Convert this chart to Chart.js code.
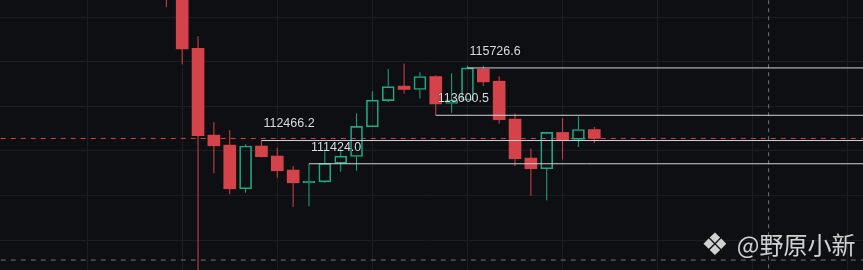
<!DOCTYPE html>
<html>
<head>
<meta charset="utf-8">
<script src="https://cdn.jsdelivr.net/npm/chart.js@4.4.1/dist/chart.umd.min.js"></script>
<style>
  html, body { margin: 0; padding: 0; background: #0e0f12; }
  #wrap { position: relative; width: 863px; height: 270px; }
  #mark {
    position: absolute; left: 701px; top: 230px; height: 28px;
    display: flex; align-items: center; white-space: nowrap;
    color: rgba(226, 226, 226, 0.92);
  }
  #mark .logo { font: 31px/28px "DejaVu Sans", sans-serif; margin-right: 8px; }
  #mark .txt { font: 24px/28px "Noto Sans CJK SC", sans-serif; }
</style>
</head>
<body>
<div id="wrap">
  <canvas id="c"></canvas>
  <div id="mark"><span class="logo">❖</span><span class="txt">@野原小新</span></div>
</div>
<script>
// candles (one per slot), prices
const slots  = [5, 6, 7, 8, 9, 10, 11, 12, 13, 14, 15, 16, 17, 18, 19, 20, 21, 22, 23, 24, 25, 26, 27, 28, 29, 30, 31, 32];
const opens  = [119650, 118950, 116610, 112710, 112260, 110300, 112220, 111770, 111140, 110560, 110610, 111440, 111750, 113080, 114260, 114910, 114760, 115340, 114130, 114280, 115670, 115130, 113430, 111680, 111200, 112830, 112520, 112960];
const highs  = [119800, 119050, 117150, 113290, 112930, 112300, 112466.2, 112140, 111330, 111424.0, 112110, 112180, 113680, 114680, 115680, 115920, 115530, 115400, 115490, 115830, 115820, 115350, 113680, 112110, 112830, 113470, 113560, 113070];
const lows   = [118450, 115890, 106300, 111000, 110050, 110120, 111720, 110790, 109490, 109520, 110570, 111060, 111110, 113070, 114200, 114580, 114350, 113600.5, 113710, 114280, 114920, 113220, 111320, 109990, 109790, 111620, 112180, 112360];
const closes = [118950, 116580, 112680, 112230, 110300, 112220, 111740, 111110, 110570, 110650, 111440, 111770, 113100, 114280, 114890, 114760, 115340, 114110, 114290, 115726.6, 115100, 113400, 111650, 111200, 112830, 112490, 112960, 112560];

// grid positions
const xTicks = [0, 6, 12, 18, 24, 30, 36, 42, 48];
const yTicks = [108000, 110000, 112000, 114000, 116000, 118000];

// marked levels
const levelText  = ['115726.6', '113600.5', '112466.2', '111424.0'];
const levelPrice = [115726.6, 113600.5, 112466.2, 111424.0];
const levelFrom  = [24, 22, 11, 14];

const lastPrice = closes[closes.length - 1];
const cross = { x: 43, y: 107100 };

const RED = '#d5434a', GREEN = '#1fa883';
const isUp = i => closes[i] >= opens[i];
const candleColor = c => isUp(c.dataIndex) ? GREEN : RED;

const X_MIN = -5.495, X_MAX = 48.955;
const Y_MIN = 106653, Y_MAX = 118777;

const levelLabels = {
  id: 'levelLabels',
  afterDatasetsDraw(chart) {
    const { ctx, scales: { x, y } } = chart;
    ctx.save();
    ctx.font = '12.5px "Liberation Sans", Arial, sans-serif';
    ctx.fillStyle = '#d8dde3';
    ctx.textBaseline = 'middle';
    ctx.shadowColor = 'rgba(0,0,0,0.9)';
    ctx.shadowBlur = 2;
    levelText.forEach((t, i) => {
      ctx.fillText(t, x.getPixelForValue(levelFrom[i]) + 2, y.getPixelForValue(levelPrice[i]) - 16.5);
    });
    ctx.restore();
  }
};

const hLine = (y0, from, style) => Object.assign({
  type: 'line',
  data: [{ x: from, y: y0 }, { x: X_MAX + 5, y: y0 }],
  borderWidth: 1, pointRadius: 0, tension: 0
}, style);

const datasets = [
  // levels on top
  ...levelPrice.map((p, i) => hLine(p, levelFrom[i], { borderColor: '#cfd4da', order: 0 })),
  // crosshair
  hLine(cross.y, X_MIN - 5, { borderColor: '#6b7282', borderDash: [5, 5], order: 0 }),
  {
    type: 'line',
    data: [{ x: cross.x, y: Y_MIN - 1000 }, { x: cross.x, y: Y_MAX + 1000 }],
    borderColor: '#6b7282', borderWidth: 1, borderDash: [4, 4], pointRadius: 0, order: 0
  },
  // bodies
  {
    type: 'bar',
    data: slots.map((s, i) => ({ x: s, y: [opens[i], closes[i]] })),
    barThickness: 12,
    grouped: false,
    backgroundColor: c => isUp(c.dataIndex) ? 'rgba(0,0,0,0)' : RED,
    borderColor: candleColor,
    borderWidth: c => isUp(c.dataIndex) ? 1 : 0,
    borderSkipped: false,
    order: 1
  },
  // upper wicks
  {
    type: 'bar',
    data: slots.map((s, i) => ({ x: s, y: [Math.max(opens[i], closes[i]), highs[i]] })),
    barThickness: 1, grouped: false, inflateAmount: 0,
    backgroundColor: candleColor, borderWidth: 0,
    order: 2
  },
  // lower wicks
  {
    type: 'bar',
    data: slots.map((s, i) => ({ x: s, y: [lows[i], Math.min(opens[i], closes[i])] })),
    barThickness: 1, grouped: false, inflateAmount: 0,
    backgroundColor: candleColor, borderWidth: 0,
    order: 2
  },
  // last price line
  hLine(lastPrice, X_MIN - 5, { borderColor: RED, borderDash: [5, 5], order: 3 })
];

const zeroFit = s => { if (s.isHorizontal()) s.height = 0; else s.width = 0; };

new Chart(document.getElementById('c'), {
  type: 'bar',
  data: { datasets },
  plugins: [levelLabels],
  options: {
    responsive: true,
    maintainAspectRatio: false,
    animation: false,
    layout: { padding: 0 },
    plugins: { legend: { display: false }, tooltip: { enabled: false } },
    scales: {
      x: {
        type: 'linear', min: X_MIN, max: X_MAX, offset: false,
        ticks: { display: false },
        grid: { color: '#1c1e23', drawTicks: false, offset: false },
        border: { display: false },
        afterBuildTicks: s => { s.ticks = xTicks.map(v => ({ value: v })); },
        afterFit: zeroFit
      },
      y: {
        type: 'linear', min: Y_MIN, max: Y_MAX,
        ticks: { display: false },
        grid: { color: '#1c1e23', drawTicks: false, offset: false },
        border: { display: false },
        afterBuildTicks: s => { s.ticks = yTicks.map(v => ({ value: v })); },
        afterFit: zeroFit
      }
    }
  }
});
</script>
</body>
</html>
